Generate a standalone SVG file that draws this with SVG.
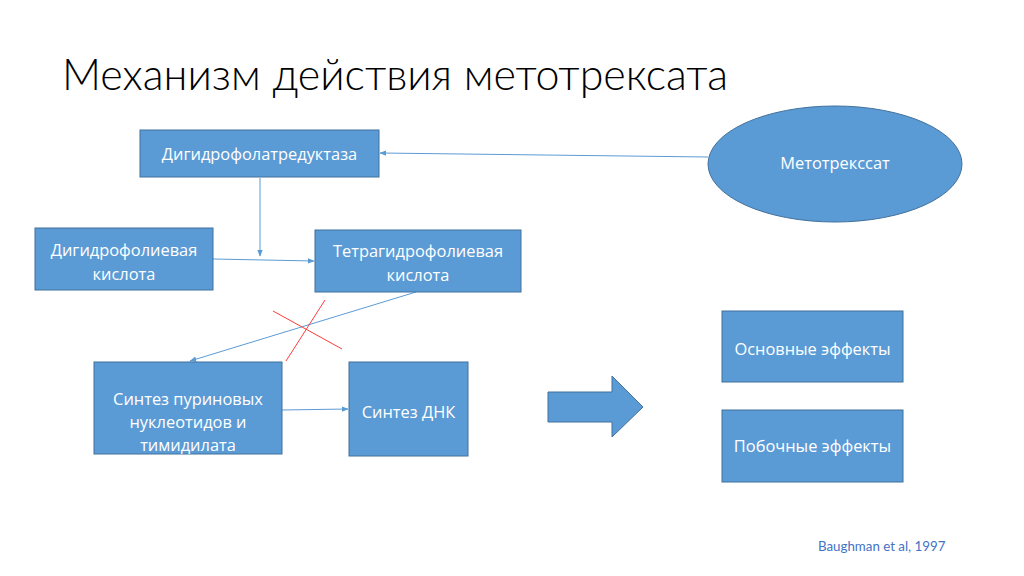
<svg xmlns="http://www.w3.org/2000/svg" width="1024" height="576" viewBox="0 0 1024 576">
<style>
.box{fill:#5b9bd5;stroke:#41719c;stroke-width:1}
.lbl{font-family:"Open Sans",Lato,"Liberation Sans",sans-serif;font-size:16.4px;fill:#ffffff;text-anchor:middle}
.con{stroke:#5b9bd5;stroke-width:1;fill:none;marker-end:url(#ah)}
.x{stroke:#ff3b3b;stroke-width:1}
</style>
<defs>
<marker id="ah" viewBox="0 0 10 10" refX="9" refY="5" markerWidth="7" markerHeight="7" orient="auto" markerUnits="userSpaceOnUse">
<path d="M0,1 L10,5 L0,9 z" fill="#5b9bd5"/>
</marker>
</defs>
<rect width="1024" height="576" fill="#ffffff"/>
<text x="62" y="90" font-family="Lato,'Open Sans','Liberation Sans',sans-serif" font-weight="300" font-size="43" fill="#000000">Механизм действия метотрексата</text>

<g id="connectors">
<line class="con" x1="708" y1="157" x2="380" y2="153"/>
<line class="con" x1="260" y1="178" x2="260" y2="256"/>
<line class="con" x1="213" y1="259" x2="314" y2="261"/>
<line class="con" x1="416" y1="292" x2="190" y2="361"/>
<line class="con" x1="282" y1="410" x2="348" y2="409"/>
<line class="x" x1="273" y1="311" x2="342" y2="349"/>
<line class="x" x1="325" y1="300" x2="286" y2="361"/>
</g>

<g id="dhfr">
<rect class="box" x="140" y="130" width="239" height="47"/>
<text class="lbl" x="259.5" y="160">Дигидрофолатредуктаза</text>
</g>
<g id="mtx">
<ellipse class="box" cx="835" cy="164" rx="127" ry="58"/>
<text class="lbl" x="835" y="169">Метотрекссат</text>
</g>
<g id="dhf">
<rect class="box" x="35" y="228" width="178" height="62"/>
<text class="lbl" x="124" y="256">Дигидрофолиевая</text>
<text class="lbl" x="124" y="280">кислота</text>
</g>
<g id="thf">
<rect class="box" x="315" y="230" width="206" height="62"/>
<text class="lbl" x="418" y="257">Тетрагидрофолиевая</text>
<text class="lbl" x="418" y="281">кислота</text>
</g>
<g id="purine">
<rect class="box" x="94" y="362" width="188" height="92"/>
<text class="lbl" x="188" y="405">Синтез пуриновых</text>
<text class="lbl" x="188" y="428">нуклеотидов и</text>
<text class="lbl" x="188" y="451">тимидилата</text>
</g>
<g id="dna">
<rect class="box" x="349" y="362" width="119" height="94"/>
<text class="lbl" x="408.5" y="418">Синтез ДНК</text>
</g>
<g id="bigarrow">
<path class="box" d="M548,392 L612,392 L612,376 L643,407 L612,437 L612,422 L548,422 Z"/>
</g>
<g id="main">
<rect class="box" x="722" y="311" width="181" height="71"/>
<text class="lbl" x="812.5" y="355">Основные эффекты</text>
</g>
<g id="side">
<rect class="box" x="722" y="410" width="181" height="72"/>
<text class="lbl" x="812.5" y="452">Побочные эффекты</text>
</g>
<text x="818" y="551" font-family="Lato,'Open Sans','Liberation Sans',sans-serif" font-size="13.3" fill="#4472c4">Baughman et al, 1997</text>
</svg>
